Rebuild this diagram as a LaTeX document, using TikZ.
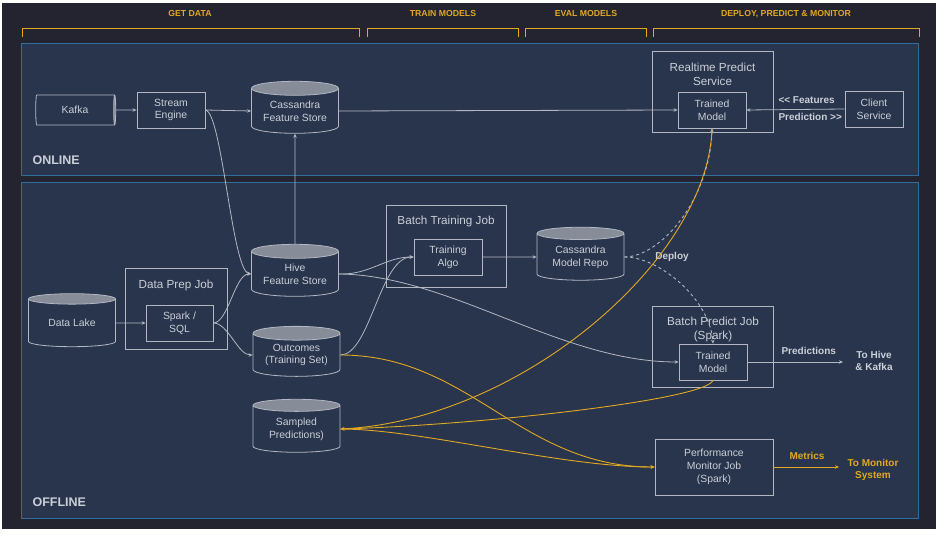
\documentclass[tikz,border=0pt]{standalone}
\usepackage{fontspec}
\setmainfont{Liberation Sans}
\usetikzlibrary{shapes.geometric,arrows.meta}
\definecolor{page}{HTML}{23242F}
\definecolor{panel}{HTML}{29354D}
\definecolor{frame}{HTML}{2F6E9E}
\definecolor{line}{HTML}{B2B7C2}
\definecolor{lid}{HTML}{868C98}
\definecolor{gold}{HTML}{E2A822}
\definecolor{ink}{HTML}{CBCFD7}
\begin{document}
\begin{tikzpicture}[
			x=1pt,y=-1pt,
			>={Stealth[length=4pt,width=3.5pt]},
			txt/.style={text=ink,font=\fontsize{10.4}{12.7}\selectfont,align=center},
			box/.style={txt,draw=line,line width=0.8pt,minimum width=68pt,minimum height=36pt,inner sep=0pt},
			jobbox/.style={draw=line,line width=0.8pt,minimum width=121pt,minimum height=81pt,inner sep=0pt},
			jobtitle/.style={txt,font=\fontsize{11.7}{14}\selectfont},
			db/.style={txt,cylinder,shape border rotate=90,draw=line,line width=0.8pt,
					cylinder uses custom fill,cylinder body fill=panel,cylinder end fill=lid,
					aspect=0.22,minimum width=87pt,minimum height=52pt,inner sep=0pt},
			tag/.style={text=ink,font=\fontsize{10}{12}\selectfont\bfseries,align=center},
			gtag/.style={tag,text=gold},
			head/.style={text=gold,font=\fontsize{8.7}{10}\selectfont\bfseries},
			bracket/.style={draw=gold,line width=0.8pt},
			zone/.style={fill=panel,draw=frame,line width=1pt},
			zonename/.style={text=ink,font=\fontsize{12.5}{14}\selectfont\bfseries,anchor=west},
			flow/.style={draw=line,line width=0.8pt,->},
			deploy/.style={draw=line,line width=0.9pt,dashed,->},
			gflow/.style={draw=gold,line width=0.9pt,->}
		]
		\useasboundingbox (0,0) rectangle (947,540);
		\fill[white] (0,0) rectangle (947,540);
		\fill[page] (2,3) rectangle (936,529);

		\node[head] (h1) at (190,14) {GET DATA};
		\node[head] (h2) at (443,14) {TRAIN MODELS};
		\node[head] (h3) at (586,14) {EVAL MODELS};
		\node[head] (h4) at (786,14) {DEPLOY, PREDICT \& MONITOR};
		\draw[bracket] (22,37) -- (22,28) -- (359,28) -- (359,37);
		\draw[bracket] (367,37) -- (367,28) -- (518,28) -- (518,37);
		\draw[bracket] (525,37) -- (525,28) -- (646,28) -- (646,37);
		\draw[bracket] (653,37) -- (653,28) -- (919,28) -- (919,37);

		\draw[zone] (21,44) rectangle (918,176);
		\draw[zone] (21,183) rectangle (918,518);
		\node[zonename] (online) at (29,160) {ONLINE};
		\node[zonename] (offline) at (29,502) {OFFLINE};

		\node[db,shape border rotate=0,aspect=0.27,minimum width=30pt,minimum height=80pt] (kafka) at (75,110) {Kafka};
		\node[box] (se) at (171,110) {Stream\\Engine};
		\node[db] (cfs) at (295,111) {Cassandra\\Feature Store};
		\node[jobbox] (rps) at (712.5,91.5) {};
		\node[jobtitle] (rpst) at (712.5,74) {Realtime Predict\\Service};
		\node[box] (rtm) at (712,110) {Trained\\Model};
		\node[box,minimum width=58pt] (cs) at (874,109) {Client\\Service};
		\node[tag,anchor=west] (feat) at (775,100) {<{}< Features};
		\node[tag,anchor=west] (pred) at (775,117) {Prediction >{}>};

		\node[db,minimum height=53pt] (lake) at (72,323) {Data Lake};
		\node[jobbox,minimum width=102pt] (prep) at (176,308.5) {};
		\node[jobtitle] (prept) at (176,285) {Data Prep Job};
		\node[box,minimum width=67pt] (sql) at (179.5,323) {Spark /\\SQL};
		\node[db] (hive) at (295,274) {Hive\\Feature Store};
		\node[db,minimum height=50pt] (out) at (296.5,355) {Outcomes\\(Training Set)};
		\node[db,minimum height=53pt] (samp) at (296.5,429) {Sampled\\Predictions)};
		\node[jobbox,minimum width=120pt,minimum height=82pt] (btj) at (446,246) {};
		\node[jobtitle] (btjt) at (446,221) {Batch Training Job};
		\node[box] (algo) at (448,257) {Training\\Algo};
		\node[db,minimum height=53pt] (repo) at (580.5,257) {Cassandra\\Model Repo};
		\node[jobbox] (bpj) at (713,346.5) {};
		\node[jobtitle] (bpjt) at (713,329) {Batch Predict Job\\(Spark)};
		\node[box] (btm) at (713,362) {Trained\\Model};
		\node[tag,anchor=west] (predlbl) at (778,351) {Predictions};
		\coordinate (hk) at (843,362);
		\node[tag] (tohk) at (874,361) {To Hive\\\& Kafka};
		\node[box,minimum width=118pt,minimum height=56pt] (pmj) at (714,467) {Performance\\Monitor Job\\(Spark)};
		\node[gtag,anchor=west] (met) at (786,456) {Metrics};
		\coordinate (mon) at (839,467);
		\node[gtag] (tomon) at (873,470) {To Monitor\\System};
		\node[tag] (dep) at (672,257) {Deploy};

		\draw[flow] (kafka.east) -- (se.west);
		\draw[flow] (se.east) -- (cfs.west);
		\draw[flow] (se.east) .. controls (222,112) and (232,270) .. (hive.west);
		\draw[flow] (hive.north) -- (cfs.south);
		\draw[flow] (cfs.east) -- (rtm.west);
		\draw[flow] (cs.west) -- (rtm.east);
		\draw[flow] (lake.east) -- (sql.west);
		\draw[flow] (sql.east) .. controls (228,323) and (235,274) .. (hive.west);
		\draw[flow] (sql.east) .. controls (228,323) and (238,355) .. (out.west);
		\draw[flow] (hive.east) .. controls (370,275) and (385,257) .. (algo.west);
		\draw[flow] (out.east) .. controls (370,355) and (380,257) .. (algo.west);
		\draw[flow] (hive.east) .. controls (450,275) and (560,362) .. (btm.west);
		\draw[flow] (algo.east) -- (repo.west);
		\draw[flow] (btm.east) -- (hk);
		\draw[deploy] (repo.east) .. controls (660,257) and (710,200) .. (rtm.south);
		\draw[deploy] (repo.east) .. controls (660,257) and (710,300) .. (btm.north);

		\draw[gflow] (rtm.south) .. controls (708,260) and (520,420) .. (samp.east);
		\draw[gflow] (btm.south) .. controls (705,400) and (480,425) .. (samp.east);
		\draw[gflow] (samp.east) .. controls (420,429) and (560,467) .. (pmj.west);
		\draw[gflow] (out.east) .. controls (470,355) and (520,467) .. (pmj.west);
		\draw[gflow] (pmj.east) -- (mon);
	\end{tikzpicture}
\end{document}
